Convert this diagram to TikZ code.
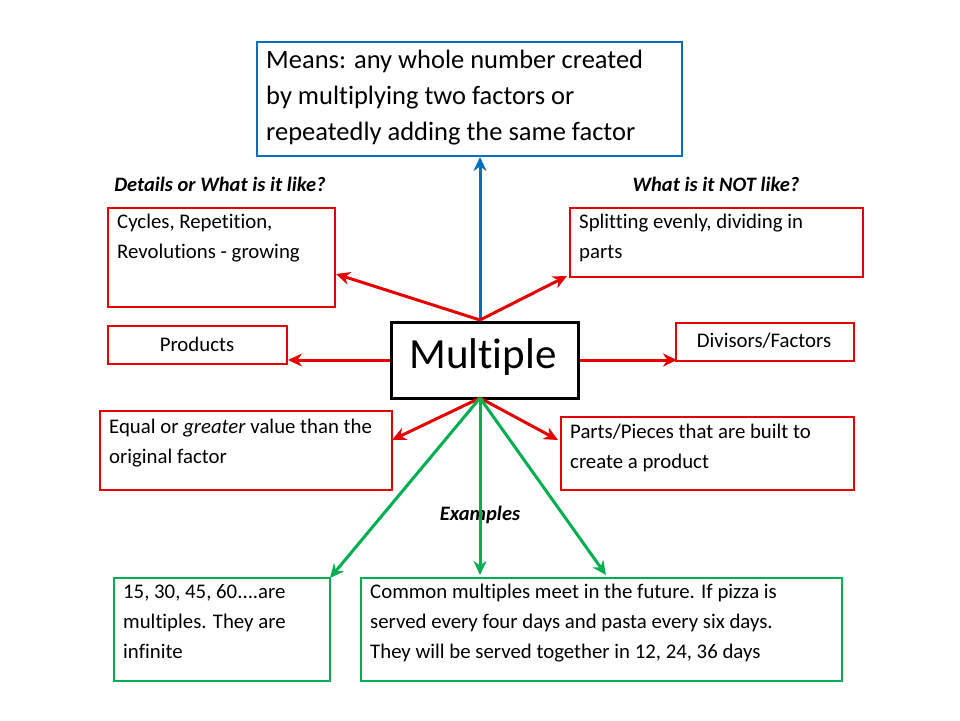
\documentclass[tikz,border=0pt]{standalone}
\usepackage{fontspec}
\setmainfont{Carlito}[Ligatures=NoCommon]
\usetikzlibrary{arrows.meta,calc}
\definecolor{bblue}{RGB}{0,112,192}
\definecolor{rred}{RGB}{230,0,0}
\definecolor{ggreen}{RGB}{0,176,80}
\tikzset{
 box/.style={draw=#1,line width=2.2pt,anchor=north west,inner sep=0pt},
 txt/.style={anchor=north west,align=left,inner sep=0pt,font=\fontsize{20.8}{30}\selectfont},
 arr/.style={draw=#1,line width=3pt,-{Stealth[length=14pt,width=13pt]}},
 lab/.style={font=\fontsize{20.5}{22}\selectfont\bfseries\itshape}
}
\begin{document}
\begin{tikzpicture}[x=1pt,y=-1pt]
\useasboundingbox (0,0) rectangle (960,720);
\node[box=bblue,minimum width=425,minimum height=114] (means) at (256,41) {};
\node[txt,font=\fontsize{26.5}{36}\selectfont] at (266,50) {Means: any whole number created\\by multiplying two factors or\\repeatedly adding the same factor};
\node[box=rred,minimum width=227,minimum height=99] (cyc) at (107,207) {};
\node[txt] at (117,214) {Cycles, Repetition,\\Revolutions - growing};
\node[box=rred,minimum width=293,minimum height=69] (spl) at (569,207) {};
\node[txt] at (579,214) {Splitting evenly, dividing in\\parts};
\node[box=rred,minimum width=179,minimum height=38] (prod) at (107,325) {};
\node[font=\fontsize{20.8}{22}\selectfont] at (197,344) {Products};
\node[box=rred,minimum width=178,minimum height=38] (div) at (675,322) {};
\node[font=\fontsize{20.8}{22}\selectfont] at (764,341) {Divisors/Factors};
\node[box=black,line width=2.5pt,minimum width=187,minimum height=76] (mul) at (390,321) {};
\node[font=\fontsize{43}{46}\selectfont] at (483,357) {Multiple};
\node[box=rred,minimum width=292,minimum height=79] (eq) at (99,410) {};
\node[txt] at (109,419) {Equal or \textit{greater} value than the\\original factor};
\node[box=rred,minimum width=293,minimum height=73] (parts) at (560,416) {};
\node[txt] at (570,424) {Parts/Pieces that are built to\\create a product};
\node[box=ggreen,minimum width=216,minimum height=103] (ex1) at (113,577) {};
\node[txt] at (123,584) {15, 30, 45, 60....are\\multiples.  They are\\infinite};
\node[box=ggreen,minimum width=481,minimum height=103] (ex2) at (360,577) {};
\node[txt] at (370,584) {Common multiples meet in the future. If pizza is\\served every four days and pasta every six days.\\They will be served together in 12, 24, 36 days};
\node[lab] at (220,184) {Details or What is it like?};
\node[lab] at (716,184) {What is it NOT like?};
\node[lab] at (480,515) {Examples};
\coordinate (top) at (480,320);
\coordinate (bot) at (480,398);
\draw[arr=bblue] (top) -- (480,157);
\draw[arr=rred] (top) -- (336,274);
\draw[arr=rred] (top) -- (567,276);
\draw[arr=rred] (mul.west |- 0,360) -- (288,360);
\draw[arr=rred] (mul.east |- 0,360) -- (677,360);
\draw[arr=rred] (bot) -- (392,440);
\draw[arr=rred] (bot) -- (558,440);
\draw[arr=ggreen] (bot) -- (330,578);
\draw[arr=ggreen] (bot) -- (480,575);
\draw[arr=ggreen] (bot) -- (606,575);
\end{tikzpicture}
\end{document}
